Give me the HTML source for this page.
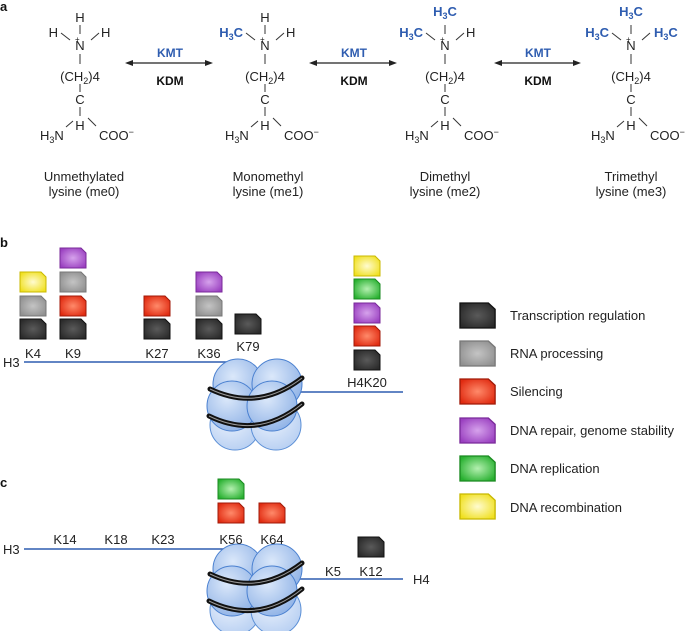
<!DOCTYPE html>
<html><head><meta charset="utf-8"><style>
html,body{margin:0;padding:0;background:#fff}
svg{display:block}
text{font-family:"Liberation Sans",Arial,sans-serif;fill:#222}
.b{fill:#2f5db0;font-weight:bold}
.k{font-weight:bold;fill:#111}
</style></head><body>
<svg width="685" height="631" viewBox="0 0 685 631" xmlns="http://www.w3.org/2000/svg">
<defs>
<radialGradient id="gK" cx="50%" cy="50%" r="60%"><stop offset="0" stop-color="#5a5a5a"/><stop offset="1" stop-color="#2a2a2a"/></radialGradient>
<radialGradient id="gG" cx="50%" cy="50%" r="60%"><stop offset="0" stop-color="#c4c4c4"/><stop offset="1" stop-color="#909090"/></radialGradient>
<radialGradient id="gR" cx="50%" cy="50%" r="60%"><stop offset="0" stop-color="#ff8a6a"/><stop offset="1" stop-color="#e02a10"/></radialGradient>
<radialGradient id="gP" cx="50%" cy="50%" r="60%"><stop offset="0" stop-color="#d6a2ec"/><stop offset="1" stop-color="#9a40c0"/></radialGradient>
<radialGradient id="gN" cx="50%" cy="50%" r="60%"><stop offset="0" stop-color="#b4f0b0"/><stop offset="1" stop-color="#28b030"/></radialGradient>
<radialGradient id="gY" cx="50%" cy="50%" r="60%"><stop offset="0" stop-color="#fffbd0"/><stop offset="1" stop-color="#f0e020"/></radialGradient>
<radialGradient id="gS" cx="40%" cy="35%" r="70%"><stop offset="0" stop-color="#dbe8fa"/><stop offset="1" stop-color="#8fb2e6"/></radialGradient>
<radialGradient id="gS2" cx="40%" cy="35%" r="70%"><stop offset="0" stop-color="#eef4fd"/><stop offset="1" stop-color="#b7cff2"/></radialGradient>
<path id="bx" d="M0,0 H21 L26,5 V20 H0 Z"/>
<g id="nuc">
<circle cx="235" cy="425" r="25" fill="url(#gS2)" stroke="#5b8fd6" stroke-width="1"/>
<circle cx="276" cy="425" r="25" fill="url(#gS2)" stroke="#5b8fd6" stroke-width="1"/>
<circle cx="238" cy="384" r="25" fill="url(#gS)" stroke="#4a80d0" stroke-width="1"/>
<circle cx="277" cy="384" r="25" fill="url(#gS)" stroke="#4a80d0" stroke-width="1"/>
<circle cx="232" cy="406" r="25" fill="url(#gS)" stroke="#4a80d0" stroke-width="1"/>
<circle cx="272" cy="406" r="25" fill="url(#gS)" stroke="#4a80d0" stroke-width="1"/>
<path d="M210,389 Q258,412 302,378" fill="none" stroke="#111" stroke-width="5" stroke-linecap="round"/>
<path d="M210,389 Q258,412 302,378" fill="none" stroke="#999" stroke-width="1"/>
<path d="M209,416 Q258,440 302,404" fill="none" stroke="#111" stroke-width="5" stroke-linecap="round"/>
<path d="M209,416 Q258,440 302,404" fill="none" stroke="#999" stroke-width="1"/>
</g>
</defs>

<text x="0" y="11" class="k" font-size="13">a</text>

<!-- molecule lines -->
<g stroke="#333" stroke-width="1">
<!-- me0 cx=80 -->
<line x1="80" y1="25" x2="80" y2="34"/><line x1="61" y1="33" x2="70" y2="40"/><line x1="99" y1="33" x2="91" y2="40"/>
<line x1="80" y1="54" x2="80" y2="64"/><line x1="80" y1="84" x2="80" y2="92"/><line x1="80" y1="107" x2="80" y2="116"/>
<line x1="73" y1="121" x2="66" y2="127"/><line x1="88" y1="118" x2="96" y2="126"/>
<!-- me1 cx=265 -->
<line x1="265" y1="25" x2="265" y2="34"/><line x1="246" y1="33" x2="255" y2="40"/><line x1="284" y1="33" x2="276" y2="40"/>
<line x1="265" y1="54" x2="265" y2="64"/><line x1="265" y1="84" x2="265" y2="92"/><line x1="265" y1="107" x2="265" y2="116"/>
<line x1="258" y1="121" x2="251" y2="127"/><line x1="273" y1="118" x2="281" y2="126"/>
<!-- me2 cx=445 -->
<line x1="445" y1="25" x2="445" y2="34"/><line x1="426" y1="33" x2="435" y2="40"/><line x1="464" y1="33" x2="456" y2="40"/>
<line x1="445" y1="54" x2="445" y2="64"/><line x1="445" y1="84" x2="445" y2="92"/><line x1="445" y1="107" x2="445" y2="116"/>
<line x1="438" y1="121" x2="431" y2="127"/><line x1="453" y1="118" x2="461" y2="126"/>
<!-- me3 cx=631 -->
<line x1="631" y1="25" x2="631" y2="34"/><line x1="612" y1="33" x2="621" y2="40"/><line x1="650" y1="33" x2="642" y2="40"/>
<line x1="631" y1="54" x2="631" y2="64"/><line x1="631" y1="84" x2="631" y2="92"/><line x1="631" y1="107" x2="631" y2="116"/>
<line x1="624" y1="121" x2="617" y2="127"/><line x1="639" y1="118" x2="647" y2="126"/>
</g>

<g font-size="13">
<!-- me0 -->
<text x="80" y="22" text-anchor="middle">H</text>
<text x="58" y="37" text-anchor="end">H</text><text x="101" y="37">H</text>
<text x="75" y="42" font-size="8">+</text><text x="80" y="50" text-anchor="middle">N</text>
<text x="80" y="81" text-anchor="middle">(CH<tspan font-size="9" dy="3">2</tspan><tspan dy="-3">)4</tspan></text>
<text x="80" y="104" text-anchor="middle">C</text>
<text x="80" y="130" text-anchor="middle">H</text>
<text x="40" y="140">H<tspan font-size="9" dy="3">3</tspan><tspan dy="-3">N</tspan></text>
<text x="99" y="140">COO<tspan font-size="9" dy="-5">−</tspan></text>
<text x="84" y="181" text-anchor="middle">Unmethylated</text>
<text x="84" y="196" text-anchor="middle">lysine (me0)</text>
<!-- me1 -->
<text x="265" y="22" text-anchor="middle">H</text>
<text x="243" y="37" text-anchor="end" class="b">H<tspan font-size="9" dy="3">3</tspan><tspan dy="-3">C</tspan></text><text x="286" y="37">H</text>
<text x="260" y="42" font-size="8">+</text><text x="265" y="50" text-anchor="middle">N</text>
<text x="265" y="81" text-anchor="middle">(CH<tspan font-size="9" dy="3">2</tspan><tspan dy="-3">)4</tspan></text>
<text x="265" y="104" text-anchor="middle">C</text>
<text x="265" y="130" text-anchor="middle">H</text>
<text x="225" y="140">H<tspan font-size="9" dy="3">3</tspan><tspan dy="-3">N</tspan></text>
<text x="284" y="140">COO<tspan font-size="9" dy="-5">−</tspan></text>
<text x="268" y="181" text-anchor="middle">Monomethyl</text>
<text x="268" y="196" text-anchor="middle">lysine (me1)</text>
<!-- me2 -->
<text x="445" y="16" text-anchor="middle" class="b">H<tspan font-size="9" dy="3">3</tspan><tspan dy="-3">C</tspan></text>
<text x="423" y="37" text-anchor="end" class="b">H<tspan font-size="9" dy="3">3</tspan><tspan dy="-3">C</tspan></text><text x="466" y="37">H</text>
<text x="440" y="42" font-size="8">+</text><text x="445" y="50" text-anchor="middle">N</text>
<text x="445" y="81" text-anchor="middle">(CH<tspan font-size="9" dy="3">2</tspan><tspan dy="-3">)4</tspan></text>
<text x="445" y="104" text-anchor="middle">C</text>
<text x="445" y="130" text-anchor="middle">H</text>
<text x="405" y="140">H<tspan font-size="9" dy="3">3</tspan><tspan dy="-3">N</tspan></text>
<text x="464" y="140">COO<tspan font-size="9" dy="-5">−</tspan></text>
<text x="445" y="181" text-anchor="middle">Dimethyl</text>
<text x="445" y="196" text-anchor="middle">lysine (me2)</text>
<!-- me3 -->
<text x="631" y="16" text-anchor="middle" class="b">H<tspan font-size="9" dy="3">3</tspan><tspan dy="-3">C</tspan></text>
<text x="609" y="37" text-anchor="end" class="b">H<tspan font-size="9" dy="3">3</tspan><tspan dy="-3">C</tspan></text>
<text x="654" y="37" class="b">H<tspan font-size="9" dy="3">3</tspan><tspan dy="-3">C</tspan></text>
<text x="626" y="42" font-size="8">+</text><text x="631" y="50" text-anchor="middle">N</text>
<text x="631" y="81" text-anchor="middle">(CH<tspan font-size="9" dy="3">2</tspan><tspan dy="-3">)4</tspan></text>
<text x="631" y="104" text-anchor="middle">C</text>
<text x="631" y="130" text-anchor="middle">H</text>
<text x="591" y="140">H<tspan font-size="9" dy="3">3</tspan><tspan dy="-3">N</tspan></text>
<text x="650" y="140">COO<tspan font-size="9" dy="-5">−</tspan></text>
<text x="631" y="181" text-anchor="middle">Trimethyl</text>
<text x="631" y="196" text-anchor="middle">lysine (me3)</text>

<!-- arrows -->
<text x="170" y="57" text-anchor="middle" class="b" font-size="12">KMT</text>
<text x="170" y="85" text-anchor="middle" class="k" font-size="12">KDM</text>
<text x="354" y="57" text-anchor="middle" class="b" font-size="12">KMT</text>
<text x="354" y="85" text-anchor="middle" class="k" font-size="12">KDM</text>
<text x="538" y="57" text-anchor="middle" class="b" font-size="12">KMT</text>
<text x="538" y="85" text-anchor="middle" class="k" font-size="12">KDM</text>
</g>
<g stroke="#222" stroke-width="1.2" fill="#222">
<line x1="128" y1="63" x2="210" y2="63"/><path d="M125,63 l8,-3 v6z" stroke="none"/><path d="M213,63 l-8,-3 v6z" stroke="none"/>
<line x1="312" y1="63" x2="394" y2="63"/><path d="M309,63 l8,-3 v6z" stroke="none"/><path d="M397,63 l-8,-3 v6z" stroke="none"/>
<line x1="497" y1="63" x2="578" y2="63"/><path d="M494,63 l8,-3 v6z" stroke="none"/><path d="M581,63 l-8,-3 v6z" stroke="none"/>
</g>

<!-- b -->
<text x="0" y="247" class="k" font-size="13">b</text>
<line x1="24" y1="362" x2="232" y2="362" stroke="#2f5db0" stroke-width="1.5"/>
<line x1="298" y1="392" x2="403" y2="392" stroke="#2f5db0" stroke-width="1.5"/>
<use href="#nuc"/>
<g font-size="13">
<text x="3" y="367">H3</text>
<text x="33" y="358" text-anchor="middle">K4</text>
<text x="73" y="358" text-anchor="middle">K9</text>
<text x="157" y="358" text-anchor="middle">K27</text>
<text x="209" y="358" text-anchor="middle">K36</text>
<text x="248" y="351" text-anchor="middle">K79</text>
<text x="367" y="387" text-anchor="middle">H4K20</text>
</g>
<g stroke-width="1">
<use href="#bx" x="20" y="272" fill="url(#gY)" stroke="#c8b800"/>
<use href="#bx" x="20" y="296" fill="url(#gG)" stroke="#777"/>
<use href="#bx" x="20" y="319" fill="url(#gK)" stroke="#111"/>
<use href="#bx" x="60" y="248" fill="url(#gP)" stroke="#7a2a9a"/>
<use href="#bx" x="60" y="272" fill="url(#gG)" stroke="#777"/>
<use href="#bx" x="60" y="296" fill="url(#gR)" stroke="#a01a08"/>
<use href="#bx" x="60" y="319" fill="url(#gK)" stroke="#111"/>
<use href="#bx" x="144" y="296" fill="url(#gR)" stroke="#a01a08"/>
<use href="#bx" x="144" y="319" fill="url(#gK)" stroke="#111"/>
<use href="#bx" x="196" y="272" fill="url(#gP)" stroke="#7a2a9a"/>
<use href="#bx" x="196" y="296" fill="url(#gG)" stroke="#777"/>
<use href="#bx" x="196" y="319" fill="url(#gK)" stroke="#111"/>
<use href="#bx" x="235" y="314" fill="url(#gK)" stroke="#111"/>
<use href="#bx" x="354" y="256" fill="url(#gY)" stroke="#c8b800"/>
<use href="#bx" x="354" y="279" fill="url(#gN)" stroke="#1a8a20"/>
<use href="#bx" x="354" y="303" fill="url(#gP)" stroke="#7a2a9a"/>
<use href="#bx" x="354" y="326" fill="url(#gR)" stroke="#a01a08"/>
<use href="#bx" x="354" y="350" fill="url(#gK)" stroke="#111"/>
</g>

<!-- legend -->
<g stroke-width="1">
<use href="#bx" transform="translate(460,303) scale(1.35,1.25)" fill="url(#gK)" stroke="#111"/>
<use href="#bx" transform="translate(460,341) scale(1.35,1.25)" fill="url(#gG)" stroke="#777"/>
<use href="#bx" transform="translate(460,379) scale(1.35,1.25)" fill="url(#gR)" stroke="#a01a08"/>
<use href="#bx" transform="translate(460,418) scale(1.35,1.25)" fill="url(#gP)" stroke="#7a2a9a"/>
<use href="#bx" transform="translate(460,456) scale(1.35,1.25)" fill="url(#gN)" stroke="#1a8a20"/>
<use href="#bx" transform="translate(460,494) scale(1.35,1.25)" fill="url(#gY)" stroke="#c8b800"/>
</g>
<g font-size="13">
<text x="510" y="320">Transcription regulation</text>
<text x="510" y="358">RNA processing</text>
<text x="510" y="396">Silencing</text>
<text x="510" y="435">DNA repair, genome stability</text>
<text x="510" y="473">DNA replication</text>
<text x="510" y="512">DNA recombination</text>
</g>

<!-- c -->
<text x="0" y="487" class="k" font-size="13">c</text>
<line x1="24" y1="549" x2="232" y2="549" stroke="#2f5db0" stroke-width="1.5"/>
<line x1="298" y1="579" x2="403" y2="579" stroke="#2f5db0" stroke-width="1.5"/>
<use href="#nuc" y="185"/>
<g font-size="13">
<text x="3" y="554">H3</text>
<text x="65" y="544" text-anchor="middle">K14</text>
<text x="116" y="544" text-anchor="middle">K18</text>
<text x="163" y="544" text-anchor="middle">K23</text>
<text x="231" y="544" text-anchor="middle">K56</text>
<text x="272" y="544" text-anchor="middle">K64</text>
<text x="333" y="576" text-anchor="middle">K5</text>
<text x="371" y="576" text-anchor="middle">K12</text>
<text x="413" y="584">H4</text>
</g>
<g stroke-width="1">
<use href="#bx" x="218" y="479" fill="url(#gN)" stroke="#1a8a20"/>
<use href="#bx" x="218" y="503" fill="url(#gR)" stroke="#a01a08"/>
<use href="#bx" x="259" y="503" fill="url(#gR)" stroke="#a01a08"/>
<use href="#bx" x="358" y="537" fill="url(#gK)" stroke="#111"/>
</g>
</svg>
</body></html>
